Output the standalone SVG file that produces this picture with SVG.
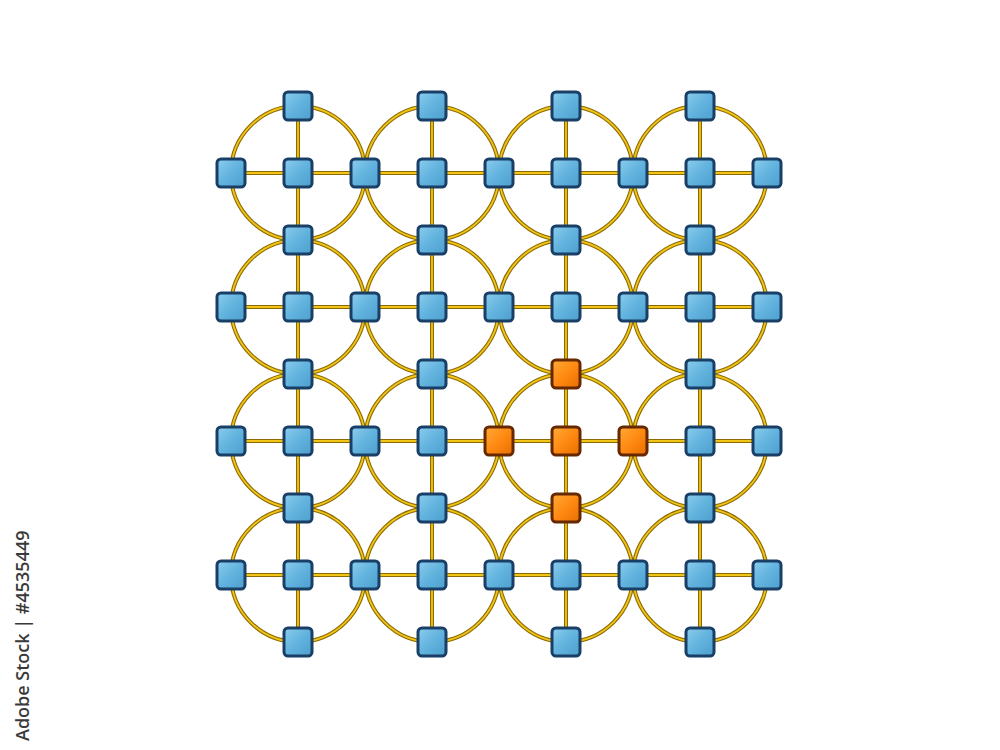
<svg xmlns="http://www.w3.org/2000/svg" width="1000" height="750" viewBox="0 0 1000 750">
<defs>
<linearGradient id="gb" x1="0" y1="0" x2="1" y2="1">
<stop offset="0" stop-color="#8ccdee"/>
<stop offset="0.5" stop-color="#62b3de"/>
<stop offset="1" stop-color="#4d9fcd"/>
</linearGradient>
<linearGradient id="go" x1="0" y1="0" x2="1" y2="1">
<stop offset="0" stop-color="#ffaa38"/>
<stop offset="0.5" stop-color="#ff8a12"/>
<stop offset="1" stop-color="#e86e00"/>
</linearGradient>
<rect id="nb" x="-14" y="-14" width="28" height="28" rx="4" class="blue"/>
<rect id="no" x="-14" y="-14" width="28" height="28" rx="4" class="orange"/>
</defs>
<style>
.wire-o { fill: none; stroke: #8c6a00; stroke-width: 4; }
.wire-i { fill: none; stroke: #f0c418; stroke-width: 1.8; }
.blue { fill: url(#gb); stroke: #1a3f66; stroke-width: 3; }
.orange { fill: url(#go); stroke: #662800; stroke-width: 3; }
.wm { font-family: "Open Sans", "Liberation Sans", sans-serif; font-size: 18px; font-weight: 600; fill: #3a3a3a; }
</style>
<rect width="1000" height="750" fill="#fff"/>
<g id="connectors">
<g class="wire-o">
<circle cx="298" cy="173" r="67"/><circle cx="432" cy="173" r="67"/><circle cx="566" cy="173" r="67"/><circle cx="700" cy="173" r="67"/>
<circle cx="298" cy="307" r="67"/><circle cx="432" cy="307" r="67"/><circle cx="566" cy="307" r="67"/><circle cx="700" cy="307" r="67"/>
<circle cx="298" cy="441" r="67"/><circle cx="432" cy="441" r="67"/><circle cx="566" cy="441" r="67"/><circle cx="700" cy="441" r="67"/>
<circle cx="298" cy="575" r="67"/><circle cx="432" cy="575" r="67"/><circle cx="566" cy="575" r="67"/><circle cx="700" cy="575" r="67"/>
<path d="M231 173H767M231 307H767M231 441H767M231 575H767M298 106V642M432 106V642M566 106V642M700 106V642"/>
</g>
<g class="wire-i">
<circle cx="298" cy="173" r="67"/><circle cx="432" cy="173" r="67"/><circle cx="566" cy="173" r="67"/><circle cx="700" cy="173" r="67"/>
<circle cx="298" cy="307" r="67"/><circle cx="432" cy="307" r="67"/><circle cx="566" cy="307" r="67"/><circle cx="700" cy="307" r="67"/>
<circle cx="298" cy="441" r="67"/><circle cx="432" cy="441" r="67"/><circle cx="566" cy="441" r="67"/><circle cx="700" cy="441" r="67"/>
<circle cx="298" cy="575" r="67"/><circle cx="432" cy="575" r="67"/><circle cx="566" cy="575" r="67"/><circle cx="700" cy="575" r="67"/>
<path d="M231 173H767M231 307H767M231 441H767M231 575H767M298 106V642M432 106V642M566 106V642M700 106V642"/>
</g>
</g>
<g id="nodes">
<g id="r1"><use href="#nb" x="298" y="106"/><use href="#nb" x="432" y="106"/><use href="#nb" x="566" y="106"/><use href="#nb" x="700" y="106"/></g>
<g id="r2"><use href="#nb" x="231" y="173"/><use href="#nb" x="298" y="173"/><use href="#nb" x="365" y="173"/><use href="#nb" x="432" y="173"/><use href="#nb" x="499" y="173"/><use href="#nb" x="566" y="173"/><use href="#nb" x="633" y="173"/><use href="#nb" x="700" y="173"/><use href="#nb" x="767" y="173"/></g>
<g id="r3"><use href="#nb" x="298" y="240"/><use href="#nb" x="432" y="240"/><use href="#nb" x="566" y="240"/><use href="#nb" x="700" y="240"/></g>
<g id="r4"><use href="#nb" x="231" y="307"/><use href="#nb" x="298" y="307"/><use href="#nb" x="365" y="307"/><use href="#nb" x="432" y="307"/><use href="#nb" x="499" y="307"/><use href="#nb" x="566" y="307"/><use href="#nb" x="633" y="307"/><use href="#nb" x="700" y="307"/><use href="#nb" x="767" y="307"/></g>
<g id="r5"><use href="#nb" x="298" y="374"/><use href="#nb" x="432" y="374"/><use href="#no" x="566" y="374"/><use href="#nb" x="700" y="374"/></g>
<g id="r6"><use href="#nb" x="231" y="441"/><use href="#nb" x="298" y="441"/><use href="#nb" x="365" y="441"/><use href="#nb" x="432" y="441"/><use href="#no" x="499" y="441"/><use href="#no" x="566" y="441"/><use href="#no" x="633" y="441"/><use href="#nb" x="700" y="441"/><use href="#nb" x="767" y="441"/></g>
<g id="r7"><use href="#nb" x="298" y="508"/><use href="#nb" x="432" y="508"/><use href="#no" x="566" y="508"/><use href="#nb" x="700" y="508"/></g>
<g id="r8"><use href="#nb" x="231" y="575"/><use href="#nb" x="298" y="575"/><use href="#nb" x="365" y="575"/><use href="#nb" x="432" y="575"/><use href="#nb" x="499" y="575"/><use href="#nb" x="566" y="575"/><use href="#nb" x="633" y="575"/><use href="#nb" x="700" y="575"/><use href="#nb" x="767" y="575"/></g>
<g id="r9"><use href="#nb" x="298" y="642"/><use href="#nb" x="432" y="642"/><use href="#nb" x="566" y="642"/><use href="#nb" x="700" y="642"/></g>
</g>
<text class="wm" transform="translate(29,741) rotate(-90)">Adobe Stock | #4535449</text>
</svg>
